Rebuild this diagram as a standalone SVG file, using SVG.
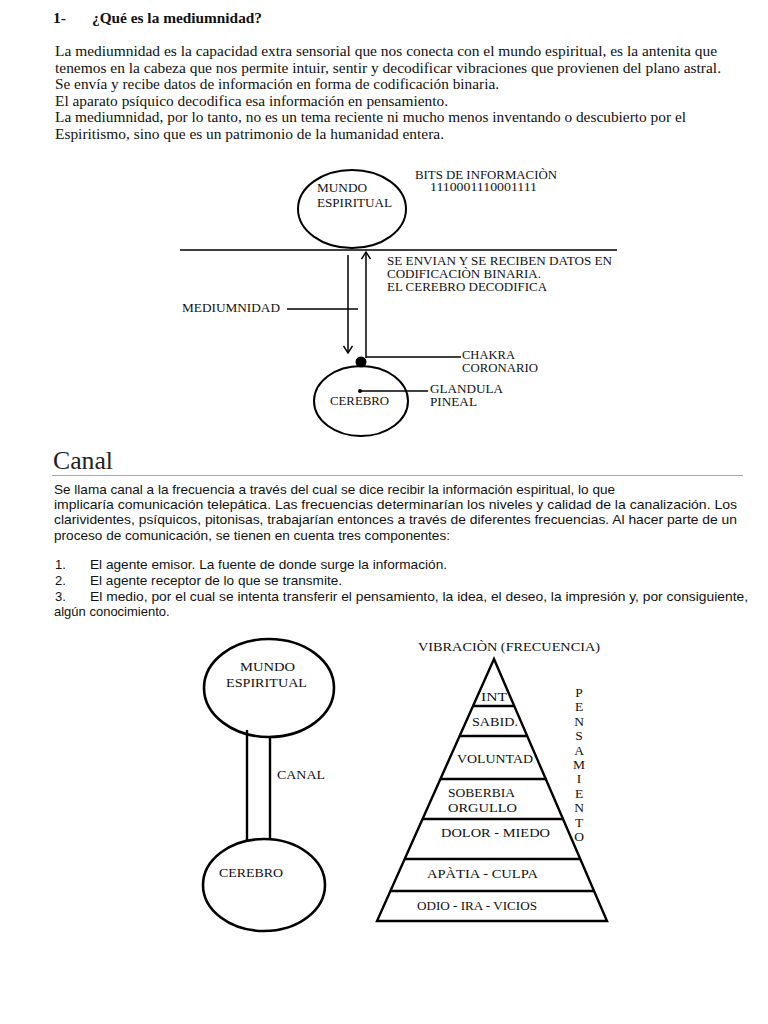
<svg xmlns="http://www.w3.org/2000/svg" width="768" height="1024" viewBox="0 0 768 1024">
<defs>
<style>
.serif{font-family:"Liberation Serif","Times New Roman",serif;fill:#111}
.body{font-size:15.5px}
.head{font-size:15.5px;font-weight:bold}
.lbl{font-size:12px}
.lbl2{font-size:13.5px}
.sans{font-family:"Liberation Sans",Arial,sans-serif;font-size:13px;fill:#111}
.thin{stroke:#000;stroke-width:1.5;fill:none}
.thick{stroke:#000;stroke-width:2.4;fill:none}
.node{stroke:#000;stroke-width:2;fill:none}
.nodeB{stroke:#000;stroke-width:2.6;fill:none}
</style>
<marker id="arr" viewBox="0 0 10 10" refX="9" refY="5" markerWidth="10" markerHeight="10" markerUnits="userSpaceOnUse" orient="auto">
<path d="M2,0.5 L9,5 L2,9.5" fill="none" stroke="#000" stroke-width="1.4"/>
</marker>
</defs>
<rect width="768" height="1024" fill="#fff"/>

<!-- Section 1 text -->
<g id="intro">
<text class="serif head" x="53" y="23">1-</text>
<text class="serif head" x="92" y="23" textLength="170" lengthAdjust="spacingAndGlyphs">¿Qué es la mediumnidad?</text>
<text class="serif body" x="55" y="56" textLength="662" lengthAdjust="spacingAndGlyphs">La mediumnidad es la capacidad extra sensorial que nos conecta con el mundo espiritual, es la antenita que</text>
<text class="serif body" x="55" y="72.5" textLength="666" lengthAdjust="spacingAndGlyphs">tenemos en la cabeza que nos permite intuir, sentir y decodificar vibraciones que provienen del plano astral.</text>
<text class="serif body" x="55" y="89" textLength="444" lengthAdjust="spacingAndGlyphs">Se envía y recibe datos de información en forma de codificación binaria.</text>
<text class="serif body" x="55" y="105.5" textLength="393" lengthAdjust="spacingAndGlyphs">El aparato psíquico decodifica esa información en pensamiento.</text>
<text class="serif body" x="55" y="122" textLength="631" lengthAdjust="spacingAndGlyphs">La mediumnidad, por lo tanto, no es un tema reciente ni mucho menos inventando o descubierto por el</text>
<text class="serif body" x="55" y="138.5" textLength="389" lengthAdjust="spacingAndGlyphs">Espiritismo, sino que es un patrimonio de la humanidad entera.</text>
</g>

<!-- Diagram 1 -->
<g id="mundo1">
<ellipse class="node" cx="352" cy="209" rx="54" ry="39"/>
<text class="serif lbl" x="317" y="192" textLength="50" lengthAdjust="spacingAndGlyphs">MUNDO</text>
<text class="serif lbl" x="317" y="207" textLength="75" lengthAdjust="spacingAndGlyphs">ESPIRITUAL</text>
</g>
<g id="bits">
<text class="serif lbl" x="415" y="179" textLength="142" lengthAdjust="spacingAndGlyphs">BITS DE INFORMACIÒN</text>
<text class="serif lbl" x="430" y="191" textLength="107" lengthAdjust="spacingAndGlyphs">1110001110001111</text>
</g>
<g id="datos">
<text class="serif lbl" x="387" y="265" textLength="225" lengthAdjust="spacingAndGlyphs">SE ENVIAN Y SE RECIBEN DATOS EN</text>
<text class="serif lbl" x="387" y="278" textLength="154" lengthAdjust="spacingAndGlyphs">CODIFICACIÒN BINARIA.</text>
<text class="serif lbl" x="387" y="291" textLength="160" lengthAdjust="spacingAndGlyphs">EL CEREBRO DECODIFICA</text>
</g>
<g id="mediumnidad">
<text class="serif lbl" x="182" y="312" textLength="98" lengthAdjust="spacingAndGlyphs">MEDIUMNIDAD</text>
</g>
<g id="chakra">
<circle cx="361" cy="362" r="5.5" fill="#000"/>
<text class="serif lbl" x="462" y="359" textLength="53" lengthAdjust="spacingAndGlyphs">CHAKRA</text>
<text class="serif lbl" x="462" y="372" textLength="76" lengthAdjust="spacingAndGlyphs">CORONARIO</text>
</g>
<g id="cerebro1">
<ellipse class="node" cx="361" cy="401" rx="47" ry="35"/>
<circle cx="360" cy="391" r="2" fill="#000"/>
<text class="serif lbl" x="330" y="405" textLength="59" lengthAdjust="spacingAndGlyphs">CEREBRO</text>
</g>
<g id="glandula">
<text class="serif lbl" x="430" y="393" textLength="73" lengthAdjust="spacingAndGlyphs">GLANDULA</text>
<text class="serif lbl" x="430" y="406" textLength="47" lengthAdjust="spacingAndGlyphs">PINEAL</text>
</g>

<!-- Canal section text -->
<g id="canal-text">
<text x="53" y="469" font-family="'Liberation Serif','Times New Roman',serif" font-size="26" fill="#222" textLength="60" lengthAdjust="spacingAndGlyphs">Canal</text>
<line x1="52" y1="475.5" x2="743" y2="475.5" stroke="#a8a8b0" stroke-width="1.2"/>
<text class="sans" x="54" y="494" textLength="561" lengthAdjust="spacingAndGlyphs">Se llama canal a la frecuencia a través del cual se dice recibir la información espiritual, lo que</text>
<text class="sans" x="54" y="509" textLength="683" lengthAdjust="spacingAndGlyphs">implicaría comunicación telepática. Las frecuencias determinarían los niveles y calidad de la canalización. Los</text>
<text class="sans" x="54" y="524" textLength="683" lengthAdjust="spacingAndGlyphs">clarividentes, psíquicos, pitonisas, trabajarían entonces a través de diferentes frecuencias. Al hacer parte de un</text>
<text class="sans" x="54" y="540" textLength="396" lengthAdjust="spacingAndGlyphs">proceso de comunicación, se tienen en cuenta tres componentes:</text>
<text class="sans" x="55" y="569">1.</text>
<text class="sans" x="90" y="569" textLength="357" lengthAdjust="spacingAndGlyphs">El agente emisor. La fuente de donde surge la información.</text>
<text class="sans" x="55" y="585">2.</text>
<text class="sans" x="90" y="585" textLength="252" lengthAdjust="spacingAndGlyphs">El agente receptor de lo que se transmite.</text>
<text class="sans" x="55" y="601">3.</text>
<text class="sans" x="90" y="601" textLength="658" lengthAdjust="spacingAndGlyphs">El medio, por el cual se intenta transferir el pensamiento, la idea, el deseo, la impresión y, por consiguiente,</text>
<text class="sans" x="54" y="616">algún conocimiento.</text>
</g>

<!-- Diagram 2 -->
<g id="mundo2">
<ellipse class="nodeB" cx="269" cy="688" rx="65" ry="49"/>
<text class="serif lbl2" x="240" y="671" textLength="55" lengthAdjust="spacingAndGlyphs">MUNDO</text>
<text class="serif lbl2" x="226" y="687" textLength="81" lengthAdjust="spacingAndGlyphs">ESPIRITUAL</text>
</g>
<g id="canal-label">
<text class="serif lbl2" x="277" y="779" textLength="48" lengthAdjust="spacingAndGlyphs">CANAL</text>
</g>
<g id="cerebro2">
<ellipse class="nodeB" cx="264" cy="885" rx="61" ry="46"/>
<text class="serif lbl2" x="219" y="877" textLength="64" lengthAdjust="spacingAndGlyphs">CEREBRO</text>
</g>

<g id="pyramid">
<text class="serif lbl2" x="418" y="651" textLength="182" lengthAdjust="spacingAndGlyphs">VIBRACIÒN (FRECUENCIA)</text>
<path class="thick" d="M494,659 L377,921 L607,921 Z" stroke-linejoin="miter"/>
<g id="tier-int"><line class="thick" x1="473" y1="706" x2="514" y2="706"/><text class="serif lbl2" x="481" y="701" textLength="26" lengthAdjust="spacingAndGlyphs">INT</text></g>
<g id="tier-sabid"><line class="thick" x1="459.6" y1="736" x2="527.5" y2="736"/><text class="serif lbl2" x="472" y="726" textLength="46" lengthAdjust="spacingAndGlyphs">SABID.</text></g>
<g id="tier-voluntad"><line class="thick" x1="440.4" y1="779" x2="547" y2="779"/><text class="serif lbl2" x="457" y="763" textLength="76" lengthAdjust="spacingAndGlyphs">VOLUNTAD</text></g>
<g id="tier-soberbia"><line class="thick" x1="422.5" y1="819" x2="564" y2="819"/><text class="serif lbl2" x="448" y="797" textLength="67" lengthAdjust="spacingAndGlyphs">SOBERBIA</text><text class="serif lbl2" x="448" y="812" textLength="69" lengthAdjust="spacingAndGlyphs">ORGULLO</text></g>
<g id="tier-dolor"><line class="thick" x1="404.7" y1="859" x2="581" y2="859"/><text class="serif lbl2" x="441" y="837" textLength="109" lengthAdjust="spacingAndGlyphs">DOLOR - MIEDO</text></g>
<g id="tier-apatia"><line class="thick" x1="390.4" y1="891" x2="594.5" y2="891"/><text class="serif lbl2" x="427" y="878" textLength="111" lengthAdjust="spacingAndGlyphs">APÀTIA - CULPA</text></g>
<g id="tier-odio"><text class="serif lbl2" x="417" y="910" textLength="120" lengthAdjust="spacingAndGlyphs">ODIO - IRA - VICIOS</text></g>
</g>
<g id="pensamiento" class="serif lbl2" text-anchor="middle">
<text x="579" y="697">P</text>
<text x="579" y="711.4">E</text>
<text x="579" y="725.8">N</text>
<text x="579" y="740.2">S</text>
<text x="579" y="754.6">A</text>
<text x="579" y="769">M</text>
<text x="579" y="783.4">I</text>
<text x="579" y="797.8">E</text>
<text x="579" y="812.2">N</text>
<text x="579" y="826.6">T</text>
<text x="579" y="841">O</text>
</g>

<!-- Connectors -->
<g id="connectors">
<line class="thin" x1="180" y1="250" x2="617" y2="250"/>
<line class="thin" x1="348" y1="255" x2="348" y2="353" marker-end="url(#arr)"/>
<line class="thin" x1="366" y1="358" x2="366" y2="252" marker-end="url(#arr)"/>
<line class="thin" x1="287" y1="309" x2="358" y2="309"/>
<line class="thin" x1="366" y1="357" x2="461" y2="357"/>
<line class="thin" x1="360" y1="391" x2="428" y2="391"/>
<line class="thick" x1="247" y1="730" x2="247" y2="840"/>
<line class="thick" x1="270" y1="736" x2="270" y2="838"/>
</g>
</svg>
